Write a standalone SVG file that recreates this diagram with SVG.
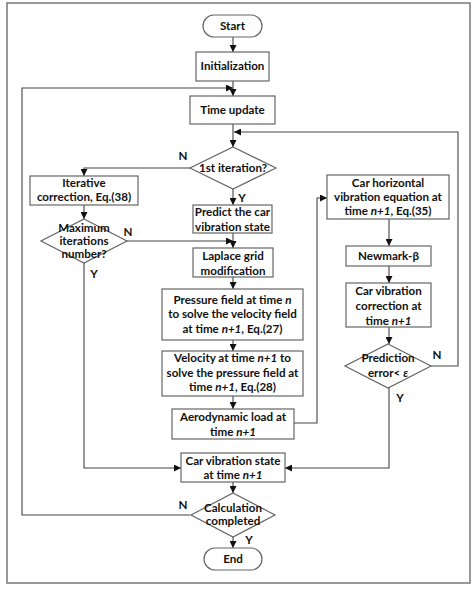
<svg xmlns="http://www.w3.org/2000/svg" width="474" height="602" viewBox="0 0 474 602">
<defs>
<marker id="ah" markerWidth="7" markerHeight="7" refX="7" refY="3.5" orient="auto" markerUnits="userSpaceOnUse">
<path d="M0,0 L7,3.5 L0,7 z" fill="#111"/>
</marker>
<style>
.box{fill:#fff;stroke:#666;stroke-width:1.2}
.t{font-family:Lato,"Liberation Sans",sans-serif;font-weight:bold;font-size:11.6px;fill:#111;text-anchor:middle}
.lbl{font-family:Lato,"Liberation Sans",sans-serif;font-weight:bold;font-size:11.6px;fill:#111;text-anchor:middle}
.c{fill:none;stroke:#444;stroke-width:1.1}
.a{marker-end:url(#ah)}
.i{font-style:italic}
</style>
</defs>
<rect x="0" y="0" width="474" height="602" fill="#fff"/>
<rect x="7" y="3" width="463" height="580" fill="none" stroke="#777" stroke-width="1.5"/>

<g id="connectors">
<path class="c a" d="M233,37 V52"/>
<path class="c a" d="M233,81 V96"/>
<path class="c a" d="M190,515 H22 V88 H233"/>
<path class="c a" d="M233,124 V147"/>
<path class="c a" d="M431,366 H458 V132 H234"/>
<path class="c a" d="M190,168 H84 V176"/>
<path class="c a" d="M233,189 V205"/>
<path class="c a" d="M84,205 V219"/>
<path class="c a" d="M127,241 H233"/>
<path class="c a" d="M233,233 V248"/>
<path class="c a" d="M233,277 V289"/>
<path class="c a" d="M233,340 V351"/>
<path class="c a" d="M233,396 V409"/>
<path class="c a" d="M294,423 H317 V198 H327"/>
<path class="c a" d="M389,219 V246"/>
<path class="c a" d="M389,266 V283"/>
<path class="c a" d="M389,327 V344"/>
<path class="c a" d="M389,388 V468 H285"/>
<path class="c a" d="M84,263 V468 H181"/>
<path class="c a" d="M233,482 V493"/>
<path class="c a" d="M233,537 V548"/>
</g>

<g id="labels">
<text class="lbl" x="183" y="160">N</text>
<text class="lbl" x="242" y="202">Y</text>
<text class="lbl" x="128" y="236">N</text>
<text class="lbl" x="94" y="278">Y</text>
<text class="lbl" x="437" y="359">N</text>
<text class="lbl" x="400" y="402">Y</text>
<text class="lbl" x="183" y="509">N</text>
<text class="lbl" x="249" y="544">Y</text>
</g>

<g id="start">
<rect class="box" x="203" y="15" width="59" height="22" rx="11"/>
<text class="t" x="232.5" y="30">Start</text>
</g>
<g id="init">
<rect class="box" x="196" y="52" width="73" height="29"/>
<text class="t" x="232.5" y="70">Initialization</text>
</g>
<g id="time-update">
<rect class="box" x="190" y="96" width="85" height="28"/>
<text class="t" x="232.5" y="114">Time update</text>
</g>
<g id="first-iteration">
<polygon class="box" points="233,147 276,168 233,189 190,168"/>
<text class="t" x="233" y="172">1st iteration?</text>
</g>
<g id="iterative-correction">
<rect class="box" x="30" y="176" width="108" height="29"/>
<text class="t" x="84" y="187">Iterative</text>
<text class="t" x="84" y="201">correction, Eq.(38)</text>
</g>
<g id="max-iterations">
<polygon class="box" points="84,219 127,241 84,263 41,241"/>
<text class="t" x="84" y="232">Maximum</text>
<text class="t" x="84" y="245">iterations</text>
<text class="t" x="84" y="258">number?</text>
</g>
<g id="predict">
<rect class="box" x="193" y="205" width="79" height="28"/>
<text class="t" x="232.5" y="216">Predict the car</text>
<text class="t" x="232.5" y="231">vibration state</text>
</g>
<g id="laplace">
<rect class="box" x="193" y="248" width="80" height="29"/>
<text class="t" x="233" y="260">Laplace grid</text>
<text class="t" x="233" y="275">modification</text>
</g>
<g id="pressure">
<rect class="box" x="162" y="289" width="141" height="51"/>
<text class="t" x="232.5" y="304">Pressure field at time <tspan class="i">n</tspan></text>
<text class="t" x="232.5" y="318">to solve the velocity field</text>
<text class="t" x="232.5" y="333">at time <tspan class="i">n+1</tspan>, Eq.(27)</text>
</g>
<g id="velocity">
<rect class="box" x="162" y="351" width="141" height="45"/>
<text class="t" x="232.5" y="362">Velocity at time <tspan class="i">n+1</tspan> to</text>
<text class="t" x="232.5" y="377">solve the pressure field at</text>
<text class="t" x="232.5" y="391">time <tspan class="i">n+1</tspan>, Eq.(28)</text>
</g>
<g id="aerodynamic">
<rect class="box" x="172" y="409" width="122" height="30"/>
<text class="t" x="233" y="421">Aerodynamic load at</text>
<text class="t" x="233" y="436">time <tspan class="i">n+1</tspan></text>
</g>
<g id="car-horizontal">
<rect class="box" x="327" y="175" width="122" height="44"/>
<text class="t" x="388" y="187">Car horizontal</text>
<text class="t" x="388" y="201">vibration equation at</text>
<text class="t" x="388" y="215">time <tspan class="i">n+1</tspan>, Eq.(35)</text>
</g>
<g id="newmark">
<rect class="box" x="346" y="246" width="85" height="20"/>
<text class="t" x="388.5" y="260">Newmark-β</text>
</g>
<g id="correction">
<rect class="box" x="346" y="283" width="85" height="44"/>
<text class="t" x="388.5" y="295">Car vibration</text>
<text class="t" x="388.5" y="310">correction at</text>
<text class="t" x="388.5" y="325">time <tspan class="i">n+1</tspan></text>
</g>
<g id="prediction-error">
<polygon class="box" points="388,344 431,366 388,388 345,366"/>
<text class="t" x="388" y="362">Prediction</text>
<text class="t" x="388" y="377">error&lt; <tspan class="i">ε</tspan></text>
</g>
<g id="car-state">
<rect class="box" x="181" y="453" width="104" height="29"/>
<text class="t" x="233" y="465">Car vibration state</text>
<text class="t" x="233" y="479">at time <tspan class="i">n+1</tspan></text>
</g>
<g id="calc-completed">
<polygon class="box" points="233,493 275,515 233,537 191,515"/>
<text class="t" x="233" y="512">Calculation</text>
<text class="t" x="233" y="525">completed</text>
</g>
<g id="end">
<rect class="box" x="204" y="548" width="58" height="22" rx="11"/>
<text class="t" x="233" y="563">End</text>
</g>
</svg>
